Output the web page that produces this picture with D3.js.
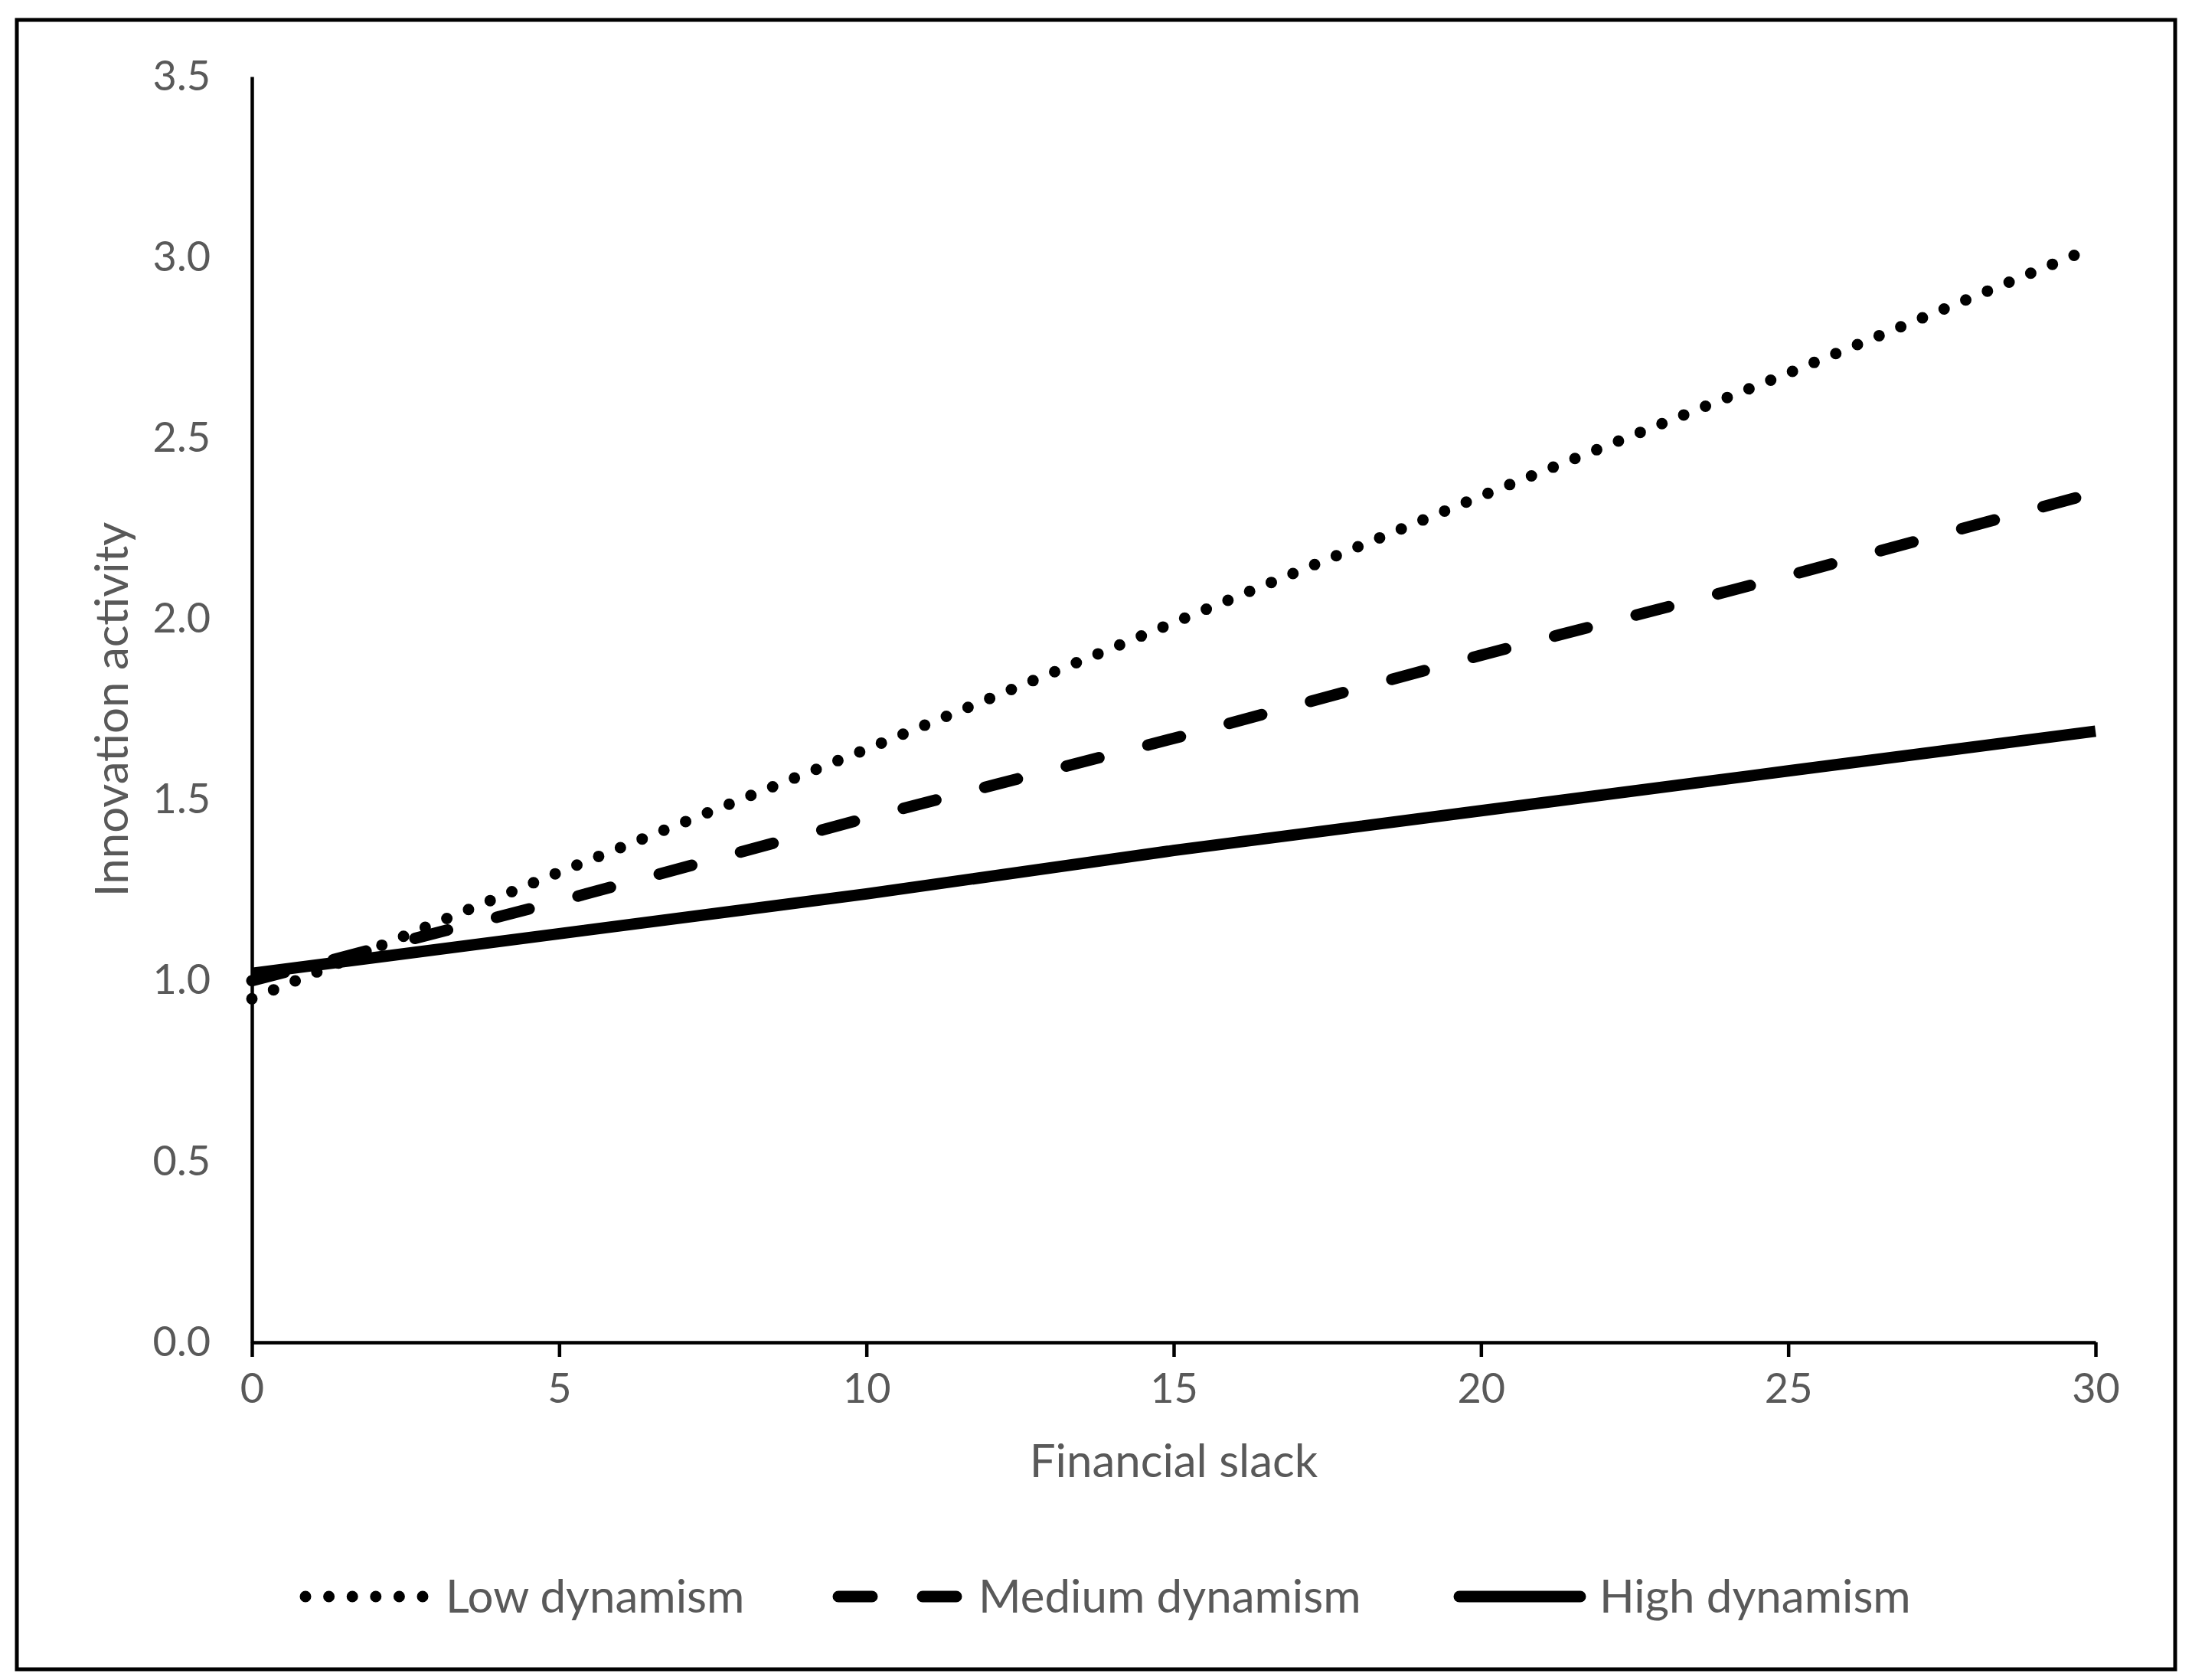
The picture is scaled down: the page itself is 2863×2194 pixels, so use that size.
<!DOCTYPE html>
<html>
<head>
<meta charset="utf-8">
<script src="https://cdn.jsdelivr.net/npm/d3@7"></script>
<style>
    body { margin: 0; background: #fff; }
    text { font-family: Lato, "Open Sans", sans-serif; fill: #595959; }
</style>
</head>
<body>
<svg id="chart" width="2863" height="2194"></svg>
<script>
// values
let slack = [0, 5, 10, 15, 20, 25, 30];
let lowDyn = [0.95, 1.30, 1.64, 1.99, 2.34, 2.68, 3.03];
let mediumDyn = [1.00, 1.22, 1.45, 1.67, 1.90, 2.12, 2.35];
let highDyn = [1.02, 1.13, 1.24, 1.36, 1.47, 1.58, 1.69];

let xTicks = [0, 5, 10, 15, 20, 25, 30];
let yTicks = [0, 0.5, 1.0, 1.5, 2.0, 2.5, 3.0, 3.5];
let seriesNames = ["Low dynamism", "Medium dynamism", "High dynamism"];

let svg = d3.select("#chart");

// outer border
svg.append("rect")
    .attr("x", 22).attr("y", 26)
    .attr("width", 2819).attr("height", 2154)
    .attr("fill", "none").attr("stroke", "#000").attr("stroke-width", 5);

let x = d3.scaleLinear().domain([0, 30]).range([329, 2737]);
let y = d3.scaleLinear().domain([0, 3.5]).range([1753, 100]);

// styles for each series
let styles = [
    { dash: "0,30.6", cap: "round" },
    { dash: "44,66", cap: "round" },
    { dash: null, cap: "butt" }
];

let series = [lowDyn, mediumDyn, highDyn].map((vals, i) => ({
    name: seriesNames[i],
    points: slack.map((s, j) => [s, vals[j]]),
    style: styles[i]
}));

// axes
let xAxis = svg.append("g")
    .attr("transform", "translate(0," + y(0) + ")")
    .call(d3.axisBottom(x).tickValues(xTicks).tickSize(19).tickSizeOuter(0).tickPadding(22));

let yAxis = svg.append("g")
    .attr("transform", "translate(" + x(0) + ",0)")
    .call(d3.axisLeft(y).tickValues(yTicks).tickFormat(d3.format(".1f")).tickSize(0).tickPadding(54));

[xAxis, yAxis].forEach(a => {
    a.select(".domain").attr("stroke", "#000").attr("stroke-width", 4.5);
    a.selectAll(".tick line").attr("stroke", "#000").attr("stroke-width", 4.5);
    a.selectAll(".tick text")
        .attr("fill", "#595959")
        .style("font-family", "Lato, 'Open Sans', sans-serif")
        .style("font-size", "54px");
});

// lines
let line = d3.line().x(d => x(d[0])).y(d => y(d[1]));

svg.selectAll(".series")
    .data(series)
    .enter().append("path")
    .attr("class", "series")
    .attr("d", d => line(d.points))
    .attr("fill", "none")
    .attr("stroke", "#000")
    .attr("stroke-width", 15)
    .attr("stroke-linecap", d => d.style.cap)
    .attr("stroke-dasharray", d => d.style.dash);

// axis titles
svg.append("text")
    .attr("x", (x(0) + x(30)) / 2)
    .attr("y", 1929)
    .attr("text-anchor", "middle")
    .style("font-size", "60px")
    .text("Financial slack");

svg.append("text")
    .attr("transform", "translate(167," + (y(0) + y(3.5)) / 2 + ") rotate(-90)")
    .attr("text-anchor", "middle")
    .style("font-size", "60px")
    .text("Innovation activity");

// legend
let legendX = [399, 1095, 1906];
let legend = svg.selectAll(".legend")
    .data(series)
    .enter().append("g")
    .attr("class", "legend")
    .attr("transform", (d, i) => "translate(" + legendX[i] + ",2085)");

legend.append("path")
    .attr("d", "M0,0H158")
    .attr("fill", "none")
    .attr("stroke", "#000")
    .attr("stroke-width", 15)
    .attr("stroke-linecap", "round")
    .attr("stroke-dasharray", d => d.style.dash);

legend.append("text")
    .attr("x", 183)
    .attr("y", 21)
    .style("font-size", "60px")
    .text(d => d.name);
</script>
</body>
</html>
